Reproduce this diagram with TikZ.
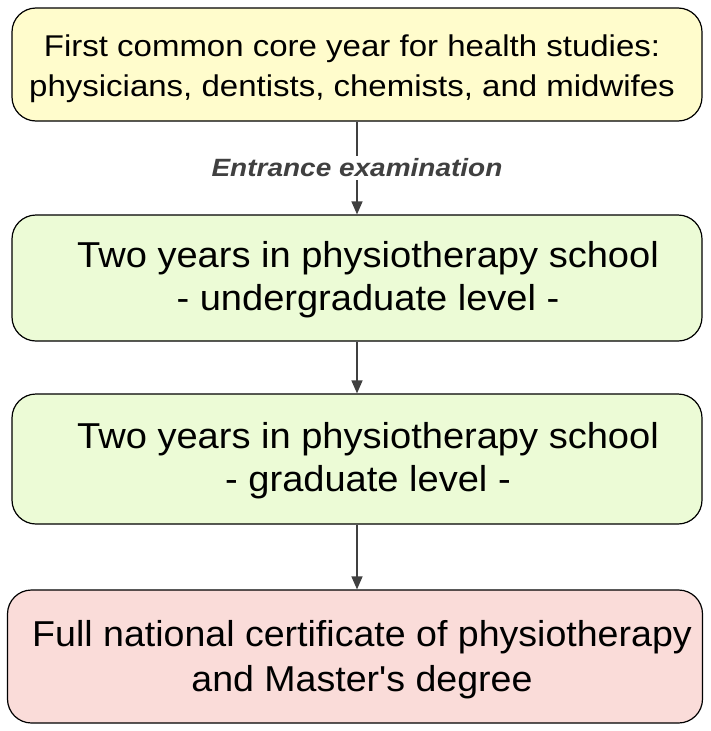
\documentclass[tikz,border=0pt]{standalone}
\usepackage{fontspec}
\setmainfont{Liberation Sans}
\usetikzlibrary{arrows.meta}
\definecolor{yellowfill}{HTML}{FFFCCC}
\definecolor{greenfill}{HTML}{ECFBD6}
\definecolor{pinkfill}{HTML}{FADCD9}
\definecolor{arrowgray}{HTML}{404040}
\newcommand{\sx}[2]{\scalebox{#1}[1]{#2}}
\begin{document}
\begin{tikzpicture}[x=1pt,y=-1pt,
  box/.style={draw=black, line width=1.2pt, rounded corners=24pt, inner sep=0pt, minimum width=690pt},
  txt/.style={align=center, inner sep=0pt, text=black},
  conn/.style={draw=arrowgray, line width=1.4pt, -{Triangle[length=13pt,width=11pt]}},
  lbl/.style={fill=white, inner sep=3pt, text=arrowgray, font=\fontsize{25}{28}\selectfont\bfseries\itshape}]
\useasboundingbox (0,0) rectangle (710,731);
\node[box, fill=yellowfill, minimum height=113pt] (b1) at (357,64.5) {};
\node[box, fill=greenfill, minimum height=126pt] (b2) at (357,278) {};
\node[box, fill=greenfill, minimum height=130pt] (b3) at (357,459) {};
\node[box, fill=pinkfill, minimum width=695pt, minimum height=133pt] (b4) at (355,656.5) {};
\node[txt, font=\fontsize{30}{40}\selectfont] (t1) at (352,69) {\sx{1.1}{First common core year for health studies:}\\\sx{1.1}{physicians, dentists, chemists, and midwifes}};
\node[txt, font=\fontsize{36}{43}\selectfont] (t2) at (368,280) {\sx{1.057}{Two years in physiotherapy school}\\\sx{1.057}{- undergraduate level -}};
\node[txt, font=\fontsize{36}{43}\selectfont] (t3) at (368,461) {\sx{1.057}{Two years in physiotherapy school}\\\sx{1.057}{- graduate level -}};
\node[txt, font=\fontsize{36}{45}\selectfont] (t4) at (362,660) {\sx{1.043}{Full national certificate of physiotherapy}\\\sx{1.043}{and Master\textquotesingle s degree}};
\draw[conn] (b1.south) -- node[lbl] (l1) {\sx{1.12}{Entrance examination}} (b2.north);
\draw[conn] (b2.south) -- (b3.north);
\draw[conn] (b3.south) -- (b4.north -| b3.south);
\end{tikzpicture}
\end{document}
